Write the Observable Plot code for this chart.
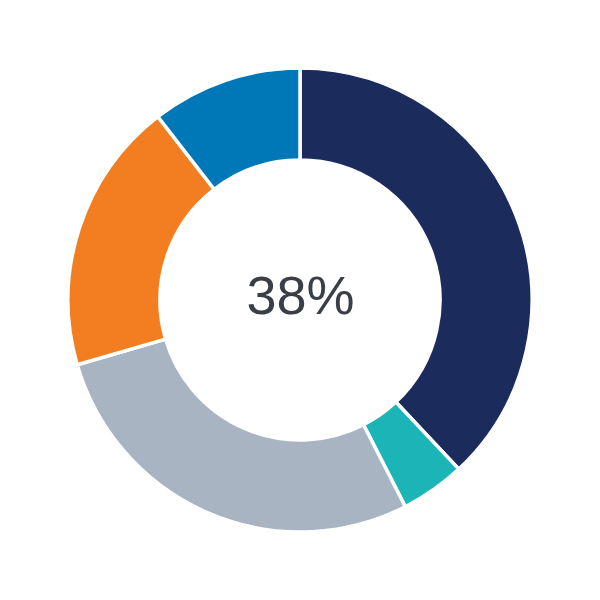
<!DOCTYPE html>
<html>
<head>
<meta charset="utf-8">
<script src="https://cdn.jsdelivr.net/npm/d3@7"></script>
<script src="https://cdn.jsdelivr.net/npm/@observablehq/plot@0.6"></script>
<style>
  html, body { margin: 0; padding: 0; background: #ffffff; }
  #chart { width: 600px; height: 600px; }
</style>
</head>
<body>
<div id="chart"></div>
<script>
const categories = ["A", "B", "C", "D", "E"];
const values = [38, 4.5, 28, 19, 10.5];
const colors = ["#1b2b5b", "#1bb5b8", "#a9b4c2", "#f37e21", "#0077b6"];
const centerLabel = "38%";

const data = categories.map((c, i) => ({category: c, value: values[i]}));

function donut(index, scales, vals, dimensions) {
  const {width, height} = dimensions;
  const cx = width / 2, cy = height / 2;
  const outer = 232, inner = 140;
  const pie = d3.pie().value(d => d.value).sort(null)(data);
  const arc = d3.arc().innerRadius(inner).outerRadius(outer);
  const g = d3.create("svg:g").attr("transform", `translate(${cx},${cy})`);
  g.selectAll("path")
    .data(pie)
    .join("path")
    .attr("d", arc)
    .attr("fill", d => scales.color(d.data.category))
    .attr("stroke", "#ffffff")
    .attr("stroke-width", 3.5)
    .attr("stroke-linejoin", "miter");
  return g.node();
}

const chart = Plot.plot({
  width: 600,
  height: 600,
  margin: 0,
  style: {background: "#ffffff", fontFamily: "'Liberation Sans', Arial, sans-serif"},
  color: {domain: categories, range: colors},
  marks: [
    donut,
    Plot.text([centerLabel], {
      text: d => d,
      frameAnchor: "middle",
      dy: -4,
      fontSize: 54,
      fill: "#3a3e47",
      fontFamily: "'Liberation Sans', Arial, sans-serif"
    })
  ]
});
document.getElementById("chart").appendChild(chart);
</script>
</body>
</html>
